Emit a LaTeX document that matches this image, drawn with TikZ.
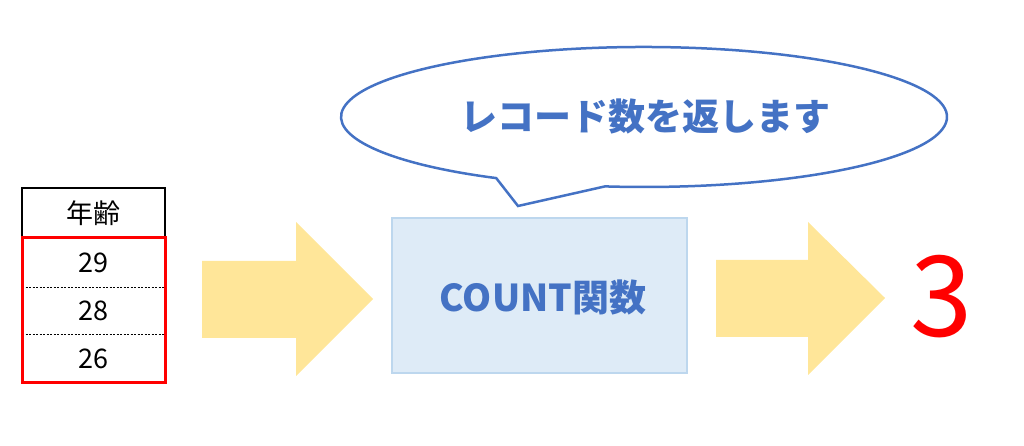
\documentclass[tikz,border=0pt]{standalone}
\usepackage{fontspec}
\setmainfont{Noto Sans CJK JP}
\definecolor{accblue}{HTML}{4472C4}
\definecolor{boxfill}{HTML}{DEEBF7}
\definecolor{boxline}{HTML}{BDD7EE}
\definecolor{arrowfill}{HTML}{FFE699}
\begin{document}
\begin{tikzpicture}[x=1pt,y=1pt,
  celltext/.style={inner sep=0pt, font=\fontsize{27}{30}\selectfont, text=black},
  blockarrow/.style={fill=arrowfill, draw=none}]
\useasboundingbox (0,0) rectangle (1024,446);
% table
\draw[black, line width=1.8pt] (22,208) rectangle (165,258);
\node[celltext] (hdr) at (93.5,233) {年齢};
\draw[black, line width=0.7pt, dash pattern=on 2pt off 1.5pt] (22,159) -- (165,159);
\draw[black, line width=0.7pt, dash pattern=on 2pt off 1.5pt] (22,112) -- (165,112);
\draw[red, line width=3pt] (22,63) rectangle (165,208);
\node[celltext] (v1) at (93.5,183.5) {29};
\node[celltext] (v2) at (93.5,135.5) {28};
\node[celltext] (v3) at (93.5,87.5) {26};
% arrows
\fill[blockarrow] (202,185) -- (296,185) -- (296,224) -- (373,147) -- (296,70) -- (296,108) -- (202,108) -- cycle;
\fill[blockarrow] (716,186) -- (808,186) -- (808,224) -- (885,148) -- (808,71) -- (808,109) -- (716,109) -- cycle;
% box
\node[draw=boxline, fill=boxfill, line width=2.5pt, minimum width=295pt, minimum height=155pt, inner sep=0pt] (fn) at (539.5,150.5) {};
\node[inner sep=0pt, text=accblue, font=\bfseries\fontsize{37}{40}\selectfont] (fntext) at (543,149) {COUNT関数};
% callout
\draw[accblue, line width=2.5pt, line join=miter] (605,259.6) arc[start angle=262.6, end angle=600.8, x radius=303pt, y radius=70pt] -- (518,240) -- cycle;
\node[inner sep=0pt, text=accblue, font=\bfseries\fontsize{37}{40}\selectfont] (msg) at (645,329) {レコード数を返します};
% result
\node[inner sep=0pt, text=red, font=\fontsize{112}{120}\selectfont] (res) at (942,149) {3};
\end{tikzpicture}
\end{document}
